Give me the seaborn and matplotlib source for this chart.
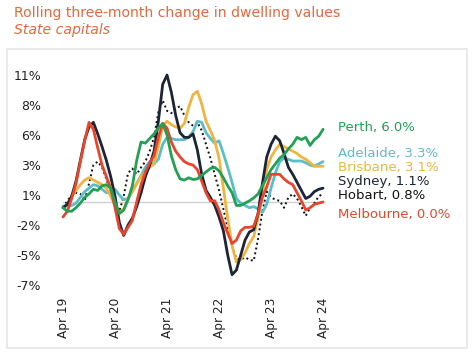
import matplotlib
matplotlib.use("Agg")
import matplotlib.pyplot as plt
import seaborn as sns
import numpy as np
import pandas as pd
from matplotlib.patches import Rectangle

sns.set_theme(style="white")
plt.rcParams['font.family'] = ['DejaVu Sans']

months = list(range(61))  # Apr 2019 .. Apr 2024, monthly
tick_positions = [0, 12, 24, 36, 48, 60]
tick_labels = ["Apr 19", "Apr 20", "Apr 21", "Apr 22", "Apr 23", "Apr 24"]
y_ticks = [-7.2, -4.6, -2.0, 0.6, 3.2, 5.8, 8.4, 11.0]

melbourne = [-1.3, -0.8, 0.3, 1.6, 3.5, 5.3, 6.9, 6.3, 4.7, 3.2, 2.2, 1.2, -0.5, -2.3, -2.8, -2.2,
             -1.6, 0.0, 1.5, 2.6, 3.4, 4.0, 5.6, 6.8, 6.4, 5.2, 4.4, 3.9, 3.5, 3.3, 3.2, 2.8,
             1.8, 0.8, 0.1, 0.1, -0.7, -1.8, -2.7, -3.6, -3.3, -2.5, -2.2, -2.2, -2.1, -1.0,
             0.4, 1.3, 2.4, 2.4, 2.4, 2.0, 1.7, 1.5, 0.8, 0.1, -0.7, -0.5, -0.2, -0.1, 0.0]
sydney = [-0.5, -0.2, 0.5, 1.8, 3.6, 5.4, 6.5, 6.9, 5.9, 4.8, 3.6, 2.2, 0.5, -1.8, -2.9, -2.0,
          -1.4, -0.4, 0.8, 2.2, 3.2, 4.4, 7.0, 10.2, 11.0, 9.5, 7.5, 6.0, 5.6, 5.6, 5.9, 4.5,
          2.4, 1.0, 0.4, -0.3, -1.3, -2.5, -4.6, -6.3, -5.9, -4.6, -3.3, -2.6, -2.4, -1.0,
          1.6, 3.9, 5.0, 5.7, 5.3, 4.2, 3.0, 2.4, 1.7, 1.0, 0.3, 0.5, 0.9, 1.1, 1.2]
brisbane = [-0.5, -0.2, 0.5, 1.0, 1.5, 1.9, 2.1, 1.9, 1.7, 1.5, 1.2, 0.5, -0.3, -0.9, -0.6, 0.3,
            0.9, 1.6, 2.2, 2.6, 3.0, 3.3, 4.8, 6.6, 7.0, 6.7, 6.5, 6.4, 6.8, 8.2, 9.3, 9.6,
            8.5, 7.0, 6.2, 5.3, 3.8, 1.2, -1.4, -3.8, -5.2, -5.0, -4.4, -3.6, -3.0, -1.4,
            0.8, 2.8, 3.9, 4.5, 5.0, 4.8, 4.6, 4.4, 4.2, 3.9, 3.7, 3.4, 3.1, 3.1, 3.1]
adelaide = [-0.35, -0.35, -0.3, -0.1, 0.4, 0.9, 1.2, 1.5, 1.4, 1.1, 0.8, 0.9, 1.1, 0.6, 0.2, 0.3,
            0.9, 1.6, 2.3, 3.0, 3.5, 3.3, 3.7, 5.0, 5.6, 5.5, 5.4, 5.4, 5.4, 5.6, 6.1, 7.0,
            6.9, 6.0, 5.5, 5.1, 5.3, 4.2, 3.0, 1.7, 0.3, -0.1, -0.3, -0.5, -0.4, -0.6,
            -0.9, -0.2, 1.2, 2.5, 3.5, 3.8, 3.7, 3.55, 3.55, 3.55, 3.4, 3.2, 3.1, 3.3, 3.5]
perth = [-0.5, -0.8, -0.8, -0.5, -0.1, 0.4, 0.7, 1.1, 1.0, 1.4, 1.5, 1.2, 0.0, -1.0, -0.7, 0.2,
         1.4, 3.6, 5.2, 5.1, 5.5, 5.9, 6.4, 6.8, 5.8, 4.0, 2.8, 2.0, 1.9, 2.1, 1.95, 2.0,
         2.3, 2.6, 2.9, 3.0, 2.7, 2.1, 1.4, 0.8, -0.3, -0.3, -0.1, 0.1, 0.35, 0.7,
         1.4, 2.1, 2.8, 3.3, 3.8, 4.1, 4.6, 5.0, 5.6, 5.4, 5.6, 4.9, 5.4, 5.7, 6.3]
hobart = [-0.5, 0.1, 0.6, 0.8, 0.7, 0.1, 1.6, 3.2, 3.5, 3.0, 2.0, 0.8, -0.2, -0.8, 0.5, 2.5,
          2.9, 2.4, 3.0, 3.5, 4.4, 5.6, 7.8, 8.8, 7.9, 7.7, 8.1, 8.3, 7.5, 6.9, 6.6, 6.9,
          6.2, 5.0, 3.8, 2.4, 1.0, -0.6, -2.3, -3.8, -4.9, -5.0, -4.8, -5.0, -5.1, -3.2,
          -0.8, 0.9, 0.4, 0.2, 0.1, -0.5, 0.4, 0.7, 0.3, -0.4, -1.2, -0.5, -0.1, 0.5, 0.7]

series = [
    ("Hobart", hobart, "#111111", (0, (1, 1.5)), 1.4),
    ("Adelaide", adelaide, "#5bbdca", "-", 2.0),
    ("Brisbane", brisbane, "#f0b440", "-", 2.0),
    ("Sydney", sydney, "#1c2536", "-", 2.0),
    ("Melbourne", melbourne, "#e8452c", "-", 2.0),
    ("Perth", perth, "#22a055", "-", 2.0),
]
labels = [
    ("Perth, 6.0%", "#22a055", 128),
    ("Adelaide, 3.3%", "#5bbdca", 153),
    ("Brisbane, 3.1%", "#f0b440", 167),
    ("Sydney, 1.1%", "#1c2536", 182),
    ("Hobart, 0.8%", "#111111", 195),
    ("Melbourne, 0.0%", "#e8452c", 214),
]

W, H = 474, 353
fig = plt.figure(figsize=(W / 100, H / 100), dpi=100)
fig.patch.set_facecolor("white")

# panel frame
fig.patches.append(Rectangle((7 / W, 1 - 348 / H), 460 / W, 299 / H, transform=fig.transFigure,
                             fill=False, edgecolor="#e6e6e6", linewidth=1.2, zorder=0))

ax = fig.add_axes([55 / W, 1 - 292 / H, 275 / W, 227 / H])
ax.set_facecolor("white")

ax.plot([months[0], months[-1]], [0, 0], color="#d0d0d0", linewidth=1.0, zorder=1)

for name, vals, col, ls, lw in series:
    sns.lineplot(x=months, y=vals, color=col, linestyle=ls, linewidth=lw, ax=ax, zorder=3)

ax.set_xlim(-1.85, 61.6)
ax.set_ylim(-7.8, 11.87)
ax.set_yticks(y_ticks)
ax.set_yticklabels([f"{v:.0f}%" for v in y_ticks], fontsize=9, color="#222222")
ax.set_xticks(tick_positions)
ax.set_xticklabels(tick_labels, rotation=90, fontsize=8.7, color="#222222")
ax.tick_params(axis="both", length=0, pad=4)
ax.tick_params(axis="y", pad=10)
for s in ax.spines.values():
    s.set_visible(False)
ax.set_xlabel("")
ax.set_ylabel("")

for text, col, ypx in labels:
    fig.text(338 / W, 1 - ypx / H, text, color=col, fontsize=9.5, va="center", ha="left")

fig.text(14 / W, 1 - 13 / H, "Rolling three-month change in dwelling values", color="#e8673c",
         fontsize=10.1, va="center", ha="left")
fig.text(14 / W, 1 - 30 / H, "State capitals", color="#e8673c", fontsize=10.1,
         style="italic", va="center", ha="left")

fig.savefig("out.png", dpi=100, facecolor="white")
